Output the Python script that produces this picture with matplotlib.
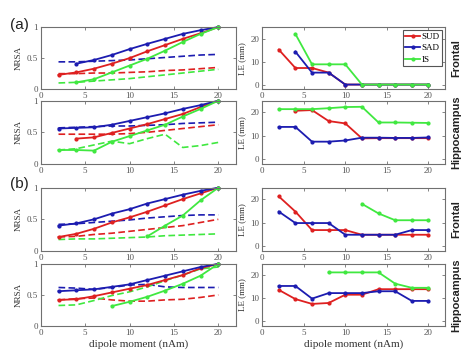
import numpy as np
import matplotlib
matplotlib.use("Agg")
import matplotlib.pyplot as plt

nan = np.nan
dipole = [2, 4, 6, 8, 10, 12, 14, 16, 18, 20]
methods = ["SUD", "SAD", "IS"]
colors = {"SUD": "#de2020", "SAD": "#1c1cb0", "IS": "#40e840"}

# NRSA, solid = first estimate, dashed = second
a_fr_nrsa = {"SUD": [0.23, 0.27, 0.33, 0.41, 0.50, 0.61, 0.71, 0.81, 0.90, 1.0],
             "SAD": [nan, 0.41, 0.47, 0.55, 0.645, 0.73, 0.81, 0.89, 0.95, 1.0],
             "IS": [nan, 0.11, 0.16, 0.27, 0.38, 0.49, 0.62, 0.76, 0.89, 1.0]}
a_fr_nrsa_d = {"SUD": [0.25, 0.25, 0.26, 0.26, 0.27, 0.28, 0.30, 0.31, 0.33, 0.35],
               "SAD": [0.44, 0.44, 0.45, 0.46, 0.47, 0.49, 0.51, 0.53, 0.55, 0.56],
               "IS": [0.10, 0.11, 0.13, 0.15, 0.17, 0.20, 0.23, 0.26, 0.29, 0.32]}
a_hc_nrsa = {"SUD": [nan, 0.40, 0.42, 0.49, 0.56, 0.63, 0.71, 0.79, 0.90, 1.0],
             "SAD": [0.56, 0.57, 0.58, 0.62, 0.68, 0.74, 0.80, 0.87, 0.93, 1.0],
             "IS": [0.22, 0.22, 0.21, 0.35, 0.44, 0.53, 0.62, 0.75, 0.87, 1.0]}
a_hc_nrsa_d = {"SUD": [0.47, 0.47, 0.47, 0.47, 0.48, 0.50, 0.53, 0.56, 0.59, 0.62],
               "SAD": [0.57, 0.58, 0.59, 0.60, 0.60, 0.61, 0.62, 0.64, 0.65, 0.66],
               "IS": [0.22, 0.24, 0.30, 0.36, 0.32, 0.40, 0.47, 0.26, 0.29, 0.34]}
b_fr_nrsa = {"SUD": [0.22, 0.27, 0.35, 0.45, 0.53, 0.62, 0.72, 0.82, 0.91, 1.0],
             "SAD": [0.40, 0.435, 0.50, 0.59, 0.66, 0.75, 0.82, 0.89, 0.95, 1.0],
             "IS": [nan, nan, nan, nan, nan, 0.23, 0.40, 0.56, 0.80, 1.0]}
b_fr_nrsa_d = {"SUD": [0.22, 0.23, 0.26, 0.28, 0.31, 0.34, 0.37, 0.40, 0.45, 0.50],
               "SAD": [0.42, 0.43, 0.45, 0.47, 0.49, 0.52, 0.54, 0.56, 0.57, 0.57],
               "IS": [0.18, 0.19, 0.19, 0.20, 0.21, 0.22, 0.24, 0.25, 0.26, 0.27]}
b_hc_nrsa = {"SUD": [0.42, 0.43, 0.48, 0.54, 0.60, 0.66, 0.74, 0.82, 0.93, 1.0],
             "SAD": [0.56, 0.575, 0.59, 0.63, 0.67, 0.74, 0.81, 0.88, 0.95, 1.0],
             "IS": [nan, nan, nan, 0.32, 0.39, 0.47, 0.57, 0.68, 0.81, 1.0]}
b_hc_nrsa_d = {"SUD": [0.42, 0.44, 0.45, 0.42, 0.40, 0.40, 0.42, 0.43, 0.46, 0.50],
               "SAD": [0.62, 0.61, 0.59, 0.62, 0.66, 0.67, 0.63, 0.62, 0.62, 0.62],
               "IS": [0.33, 0.34, 0.41, 0.49, 0.55, 0.63, 0.73, 0.82, 0.92, 0.95]}

# localization error (mm)
a_fr_le = {"SUD": [15.2, 7.2, 7.2, 5.2, 0, 0, 0, 0, 0, 0],
           "SAD": [nan, 14.3, 5.2, 5.2, 0, 0, 0, 0, 0, 0],
           "IS": [nan, 22.0, 8.8, 8.8, 8.8, 0, 0, 0, 0, 0]}
a_hc_le = {"SUD": [nan, 20.7, 21.0, 16.3, 15.3, 8.9, 9.0, 9.0, 9.0, 9.0],
           "SAD": [13.8, 13.8, 7.5, 7.5, 8.0, 9.2, 9.2, 9.1, 9.1, 9.3],
           "IS": [21.4, 21.4, 21.4, 21.8, 22.3, 22.4, 15.7, 15.7, 15.6, 15.5]}
b_fr_le = {"SUD": [21.3, 14.8, 6.9, 6.9, 6.9, 4.9, 4.9, 4.9, 4.9, 4.9],
           "SAD": [14.8, 9.9, 9.9, 9.9, 4.9, 4.9, 4.9, 4.9, 6.9, 6.9],
           "IS": [nan, nan, nan, nan, nan, 18.1, 14.0, 11.1, 11.1, 11.1]}
b_hc_le = {"SUD": [13.7, 9.7, 7.6, 8.0, 11.6, 11.6, 14.0, 14.0, 14.0, 14.0],
           "SAD": [15.4, 15.4, 9.9, 12.3, 12.3, 12.3, 13.1, 13.1, 8.9, 8.9],
           "IS": [nan, nan, nan, 21.3, 21.3, 21.3, 21.3, 16.4, 14.6, 14.6]}

serif = "Liberation Serif"
sans = "Liberation Sans"
frame_col = "#707070"

fig = plt.figure(figsize=(4.74, 3.61), dpi=100)

# rows: (bottom, height) in figure fraction
rows = [(0.753, 0.172), (0.546, 0.175), (0.305, 0.175), (0.097, 0.172)]
left_x, left_w = 0.086, 0.412
right_x, right_w = 0.553, 0.386


def style(ax):
    for s in ax.spines.values():
        s.set_color(frame_col)
        s.set_linewidth(0.8)
    ax.tick_params(direction="in", top=True, right=True, length=2.5, width=0.6,
                   color=frame_col, labelsize=6.5, labelcolor="#555555", pad=2)
    for t in ax.get_xticklabels() + ax.get_yticklabels():
        t.set_fontfamily(serif)
    ax.set_xlim(0, 22)
    ax.set_xticks([0, 5, 10, 15, 20])


nrsa_sets = [(a_fr_nrsa, a_fr_nrsa_d), (a_hc_nrsa, a_hc_nrsa_d),
             (b_fr_nrsa, b_fr_nrsa_d), (b_hc_nrsa, b_hc_nrsa_d)]
le_sets = [a_fr_le, a_hc_le, b_fr_le, b_hc_le]
region_names = ["Frontal", "Hippocampus", "Frontal", "Hippocampus"]

for i, (bottom, h) in enumerate(rows):
    ax = fig.add_axes([left_x, bottom, left_w, h])
    solid, dashed = nrsa_sets[i]
    for m in methods:
        ax.plot(dipole, dashed[m], "--", color=colors[m], lw=1.2, dashes=(4, 2),
                clip_on=False)
    for m in methods:
        ax.plot(dipole, solid[m], "-", marker=".", ms=4, color=colors[m], lw=1.3,
                clip_on=False)
    ax.set_ylim(0, 1)
    ax.set_yticks([0, 0.5, 1])
    ax.set_yticklabels(["0", "0.5", "1"])
    style(ax)
    ax.set_ylabel("NRSA", fontfamily=serif, fontsize=6.5, color="#333333", labelpad=3)
    if i == 3:
        ax.set_xlabel("dipole moment (nAm)", fontfamily=serif, fontsize=8,
                      color="#333333", labelpad=2)

    ax2 = fig.add_axes([right_x, bottom, right_w, h])
    le = le_sets[i]
    for m in methods:
        ax2.plot(dipole, le[m], "-", marker=".", ms=4, color=colors[m], lw=1.3,
                 label=m)
    ax2.set_ylim(-2, 25)
    ax2.set_yticks([0, 10, 20])
    style(ax2)
    ax2.set_ylabel("LE (mm)", fontfamily=serif, fontsize=6.5, color="#333333",
                   labelpad=3)
    if i == 3:
        ax2.set_xlabel("dipole moment (nAm)", fontfamily=serif, fontsize=8,
                       color="#333333", labelpad=2)
    if i == 0:
        leg = ax2.legend(loc="upper right", prop={"family": serif, "size": 6.5},
                         handlelength=1.6, handletextpad=0.2, borderpad=0.3,
                         labelspacing=0.35, fancybox=False, framealpha=1,
                         borderaxespad=0.3)
        leg.get_frame().set_edgecolor("#555555")
        leg.get_frame().set_linewidth(0.8)
    fig.text(0.962, bottom + h / 2, region_names[i], rotation=90, ha="center",
             va="center", fontfamily=sans, fontsize=8, fontweight="bold",
             color="#222222")

fig.text(0.022, 1 - 25 / 361, "(a)", fontfamily=sans, fontsize=11, va="center",
         color="#222222")
fig.text(0.022, 1 - 184 / 361, "(b)", fontfamily=sans, fontsize=11, va="center",
         color="#222222")

fig.savefig("out.png", dpi=100)
